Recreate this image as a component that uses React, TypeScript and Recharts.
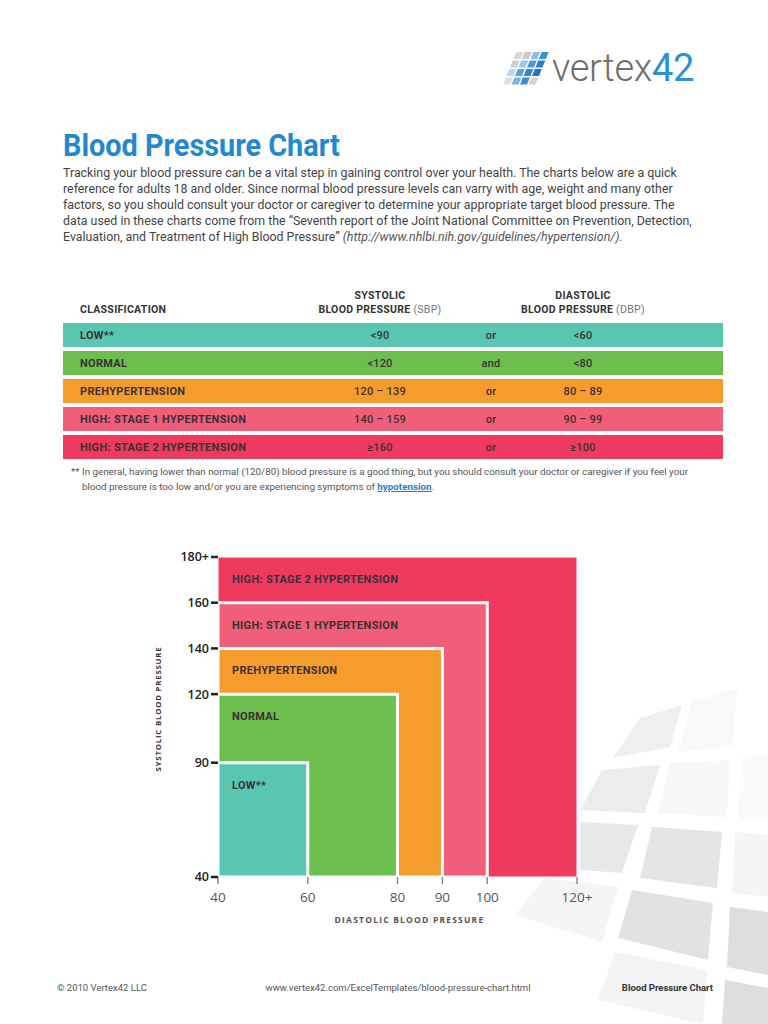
import React from 'react';
import { ScatterChart, Scatter, XAxis, YAxis, ReferenceArea, Label } from 'recharts';

// table + chart data
const categories = ['LOW**', 'NORMAL', 'PREHYPERTENSION', 'HIGH: STAGE 1 HYPERTENSION', 'HIGH: STAGE 2 HYPERTENSION'];
const sbpText = ['<90', '<120', '120 – 139', '140 – 159', '≥160'];
const joinText = ['or', 'and', 'or', 'or', 'or'];
const dbpText = ['<60', '<80', '80 – 89', '90 – 99', '≥100'];
const sbpUpper = [90, 120, 140, 160, 180];
const dbpUpper = [60, 80, 90, 100, 120];
const axisFloor = 40;
const xTicks = [40, 60, 80, 90, 100, 120];
const yTicks = [40, 90, 120, 140, 160, 180];

const zoneColors = ['#58c6b1', '#6cbf4f', '#f59c2c', '#f15e79', '#ef3a5f'];

const paragraph = [
  'Tracking your blood pressure can be a vital step in gaining control over your health. The charts below are a quick',
  'reference for adults 18 and older. Since normal blood pressure levels can varry with age, weight and many other',
  'factors, so you should consult your doctor or caregiver to determine your appropriate target blood pressure. The',
  'data used in these charts come from the \u201cSeventh report of the Joint National Committee on Prevention, Detection,',
];

type TProps = {
  x: number;
  cy: number;
  size: number;
  sx?: number;
  weight?: number;
  color?: string;
  align?: 'left' | 'center' | 'right';
  family?: string;
  spacing?: number;
  children: React.ReactNode;
};

function T({ x, cy, size, sx = 1, weight = 400, color = '#444', align = 'left', family = 'Roboto', spacing = 0, children }: TProps) {
  const base: React.CSSProperties = {
    position: 'absolute',
    top: cy - size / 2,
    fontSize: size,
    lineHeight: `${size}px`,
    height: size,
    whiteSpace: 'nowrap',
    fontWeight: weight,
    color,
    fontFamily: family,
    letterSpacing: spacing,
  };
  if (align === 'left') return <div style={{ ...base, left: x, transform: `scaleX(${sx})`, transformOrigin: '0 50%' }}>{children}</div>;
  if (align === 'right') return <div style={{ ...base, right: 768 - x, transform: `scaleX(${sx})`, transformOrigin: '100% 50%' }}>{children}</div>;
  return <div style={{ ...base, left: x, transform: `translateX(-50%) scaleX(${sx})` }}>{children}</div>;
}

// faint tiles in the lower right corner
const tiles: [string, string][] = [
  ['640,718 682,705 670,747 613,758', '#efefef'],
  ['692,702 737,688 733,745 678,752', '#f8f8f8'],
  ['602,770 660,765 645,813 580,810', '#ececec'],
  ['670,763 730,760 727,817 658,813', '#f7f7f7'],
  ['742,757 768,755 768,820 738,820', '#fafafa'],
  ['580,822 638,825 622,873 580,870', '#e8e8e8'],
  ['652,827 722,832 717,888 640,878', '#e4e4e4'],
  ['735,832 768,835 768,897 732,893', '#f5f5f5'],
  ['545,878 618,887 602,942 515,915', '#f5f5f5'],
  ['632,890 713,903 708,960 618,938', '#e2e2e2'],
  ['730,907 768,912 768,975 727,967', '#dedede'],
  ['615,952 707,970 703,1024 598,1000', '#f4f4f4'],
  ['725,980 768,988 768,1024 722,1024', '#dedede'],
];

function Backdrop() {
  return (
    <svg width={768} height={1024} style={{ position: 'absolute', left: 0, top: 0 }}>
      {tiles.map(([pts, c], i) => (
        <polygon key={i} points={pts} fill={c} />
      ))}
    </svg>
  );
}

const logoCells = [
  ['#d6d6d6', '#c9c9c9', '#8fbde6', '#3d8fd6'],
  ['#cfcfcf', '#9cc6ea', '#4a98da', '#2a7fcf'],
  ['#b9d8f2', '#5ba3de', '#2f86d2', '#1f74c4'],
  ['#dedede', '#7eb4e3', '#3a8cd4', '#d2d2d2'],
];

function Logo() {
  return (
    <>
      <svg width={48} height={38} style={{ position: 'absolute', left: 503, top: 50 }}>
        <g transform="skewX(-22) translate(14,2)">
          {logoCells.map((row, r) =>
            row.map((c, k) => <rect key={`${r}-${k}`} x={k * 8.5} y={r * 8.5} width={7} height={7} fill={c} />),
          )}
        </g>
      </svg>
      <div
        style={{
          position: 'absolute',
          left: 552,
          top: 48,
          fontFamily: 'Roboto',
          fontWeight: 300,
          fontSize: 38,
          lineHeight: '40px',
          whiteSpace: 'nowrap',
          letterSpacing: -0.3,
        }}
      >
        <span style={{ color: '#6e6e6e' }}>vertex</span>
        <span style={{ color: '#2d8fd5', fontWeight: 400 }}>42</span>
      </div>
    </>
  );
}

function ZoneTable() {
  const rowTop = 323;
  const rowStep = 28;
  const head = { size: 10.5, weight: 700, spacing: 0.3, color: '#333' };
  return (
    <>
      <T x={80} cy={310} {...head}>CLASSIFICATION</T>
      <T x={380} cy={296} {...head} align="center">SYSTOLIC</T>
      <T x={380} cy={310} {...head} align="center">
        BLOOD PRESSURE <span style={{ fontWeight: 400, color: '#777' }}>(SBP)</span>
      </T>
      <T x={583} cy={296} {...head} align="center">DIASTOLIC</T>
      <T x={583} cy={310} {...head} align="center">
        BLOOD PRESSURE <span style={{ fontWeight: 400, color: '#777' }}>(DBP)</span>
      </T>
      {categories.map((name, i) => {
        const cy = rowTop + i * rowStep + 12;
        return (
          <React.Fragment key={name}>
            <div style={{ position: 'absolute', left: 63, top: rowTop + i * rowStep, width: 660, height: 24, background: zoneColors[i] }} />
            <T x={80} cy={cy} size={11} weight={700} spacing={0.3} color="#3a3034">{name}</T>
            <T x={380} cy={cy} size={11} weight={500} spacing={0.2} color="#3a3034" align="center">{sbpText[i]}</T>
            <T x={491} cy={cy} size={11} weight={500} spacing={0.2} color="#3a3034" align="center">{joinText[i]}</T>
            <T x={583} cy={cy} size={11} weight={500} spacing={0.2} color="#3a3034" align="center">{dbpText[i]}</T>
          </React.Fragment>
        );
      })}
    </>
  );
}

const zoneLabel = (text: string) => (props: any) => {
  const vb = props.viewBox || {};
  return (
    <text x={vb.x + 14} y={vb.y + 26} fill="#3b2f34" fontSize={11} fontWeight={700} fontFamily="Roboto" letterSpacing={0.3}>
      {text}
    </text>
  );
};

const systolicTitle = (props: any) => {
  const vb = props.viewBox || {};
  const cx = vb.x + 8;
  const cy = vb.y + vb.height / 2 - 8;
  return (
    <text
      x={cx}
      y={cy}
      transform={`rotate(-90, ${cx}, ${cy})`}
      textAnchor="middle"
      dominantBaseline="central"
      fill="#333"
      fontSize={7.8}
      fontWeight={700}
      fontFamily="Open Sans"
      letterSpacing={0.8}
    >
      SYSTOLIC BLOOD PRESSURE
    </text>
  );
};

function BPChart() {
  const corners = categories.map((name, i) => ({ name, dbp: dbpUpper[i], sbp: sbpUpper[i] }));
  const order = categories.map((_, i) => i).reverse();
  return (
    <ScatterChart width={460} height={400} margin={{ top: 17, right: 33, bottom: 0, left: 0 }}>
      <XAxis
        type="number"
        dataKey="dbp"
        domain={[axisFloor, 120]}
        ticks={xTicks}
        interval={0}
        allowDataOverflow
        height={63}
        axisLine={false}
        tickSize={7}
        tickMargin={8}
        tickLine={{ stroke: '#8a8a8a', strokeWidth: 1.5 }}
        tick={{ fill: '#555', fontSize: 13.5, fontFamily: 'Open Sans' }}
        tickFormatter={(v: number) => (v === 120 ? '120+' : String(v))}
      >
        <Label
          value="DIASTOLIC BLOOD PRESSURE"
          position="insideTop"
          offset={40}
          dx={12}
          fill="#555"
          fontSize={8.5}
          fontWeight={700}
          fontFamily="Open Sans"
          letterSpacing={1.2}
        />
      </XAxis>
      <YAxis
        type="number"
        dataKey="sbp"
        domain={[axisFloor, 180]}
        ticks={yTicks}
        interval={0}
        allowDataOverflow
        width={68}
        axisLine={false}
        tickSize={7}
        tickMargin={2}
        tickLine={{ stroke: '#222', strokeWidth: 2.5 }}
        tick={{ fill: '#222', fontSize: 12.5, fontWeight: 600, fontFamily: 'Open Sans' }}
        tickFormatter={(v: number) => (v === 180 ? '180+' : String(v))}
      >
        <Label content={systolicTitle} />
      </YAxis>
      {order.map((i) => (
        <ReferenceArea
          key={categories[i]}
          x1={axisFloor}
          x2={dbpUpper[i]}
          y1={axisFloor}
          y2={sbpUpper[i]}
          fill={zoneColors[i]}
          fillOpacity={1}
          stroke="#ffffff"
          strokeWidth={i === 4 ? 1 : 3}
          label={{ content: zoneLabel(categories[i]) }}
        />
      ))}
      <Scatter data={corners} isAnimationActive={false} shape={() => <g />} />
    </ScatterChart>
  );
}

export default function App() {
  return (
    <div
      style={{
        position: 'absolute',
        left: 0,
        top: 0,
        width: 768,
        height: 1024,
        overflow: 'hidden',
        background: '#fff',
        fontFamily: 'Roboto, sans-serif',
      }}
    >
      <Backdrop />
      <Logo />
      <T x={63} cy={145} size={31} weight={700} sx={0.93} color="#2188d2">Blood Pressure Chart</T>
      {paragraph.map((line, i) => (
        <T key={i} x={63} cy={173 + i * 16} size={12.5} sx={0.99} color="#444">{line}</T>
      ))}
      <T x={63} cy={237} size={12.5} sx={0.99} color="#444">
        Evaluation, and Treatment of High Blood Pressure{'\u201d '}
        <span style={{ fontStyle: 'italic', color: '#555' }}>(http://www.nhlbi.nih.gov/guidelines/hypertension/).</span>
      </T>
      <ZoneTable />
      <T x={71} cy={472} size={9.8} color="#555">**</T>
      <T x={82} cy={472} size={9.8} color="#555">
        In general, having lower than normal (120/80) blood pressure is a good thing, but you should consult your doctor or caregiver if you feel your
      </T>
      <T x={82} cy={487} size={9.8} color="#555">
        blood pressure is too low and/or you are experiencing symptoms of{' '}
        <span style={{ color: '#2a7fd0', fontWeight: 700, textDecoration: 'underline' }}>hypotension</span>.
      </T>
      <div style={{ position: 'absolute', left: 150, top: 540 }}>
        <BPChart />
      </div>
      <T x={57} cy={988} size={9.5} color="#555">© 2010 Vertex42 LLC</T>
      <T x={398} cy={988} size={9.5} color="#555" align="center">www.vertex42.com/ExcelTemplates/blood-pressure-chart.html</T>
      <T x={713} cy={988} size={9.5} weight={700} color="#333" align="right">Blood Pressure Chart</T>
    </div>
  );
}
